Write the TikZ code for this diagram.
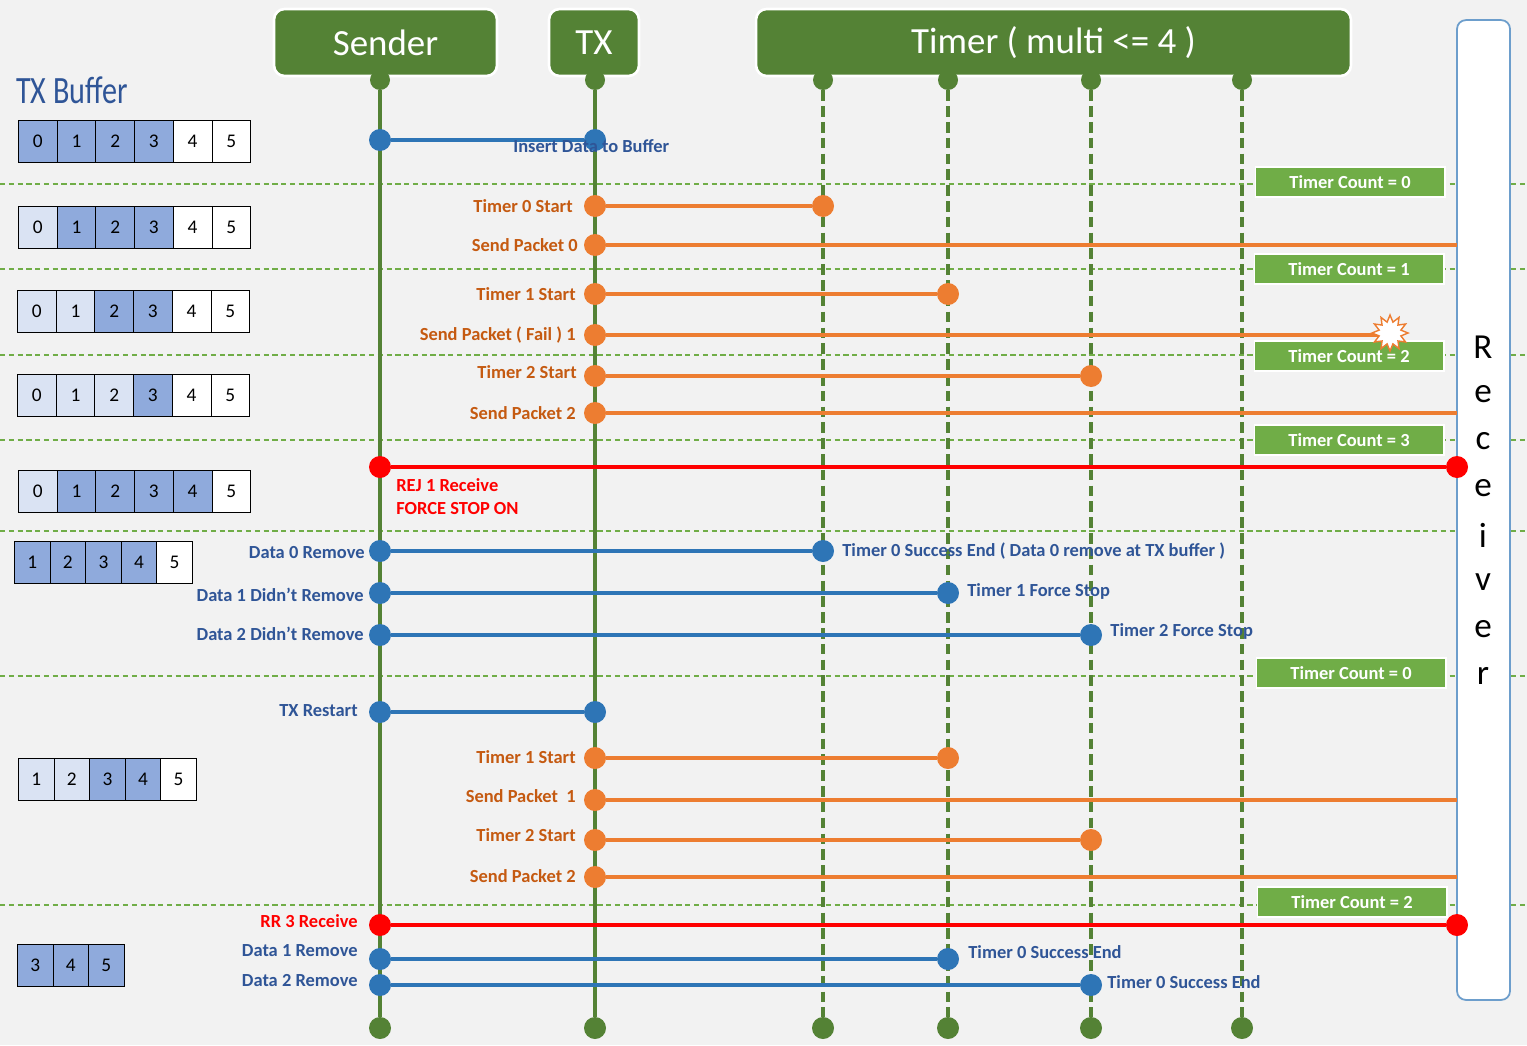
\documentclass[tikz,border=0pt]{standalone}
\usepackage{fontspec}
\setmainfont{Carlito}
\usetikzlibrary{shapes.geometric}
\definecolor{bg}{HTML}{F2F2F2}
\definecolor{hdr}{HTML}{548235}
\definecolor{life}{HTML}{548235}
\definecolor{cnt}{HTML}{70AD47}
\definecolor{bl}{HTML}{2E75B6}
\definecolor{bltxt}{HTML}{2F5597}
\definecolor{org}{HTML}{ED7D31}
\definecolor{orgtxt}{HTML}{C55A11}
\definecolor{rd}{HTML}{FF0000}
\definecolor{cellb}{HTML}{8FAADC}
\definecolor{celll}{HTML}{DAE3F3}
\tikzset{
 hdrbox/.style={draw=white,line width=1.5pt,fill=hdr,rounded corners=6pt,text=white,font=\fontsize{21}{21}\selectfont,inner sep=0pt},
 lifeln/.style={draw=life,line width=1.8pt},
 timerln/.style={draw=life,line width=1.8pt,dash pattern=on 6pt off 3pt},
 sep/.style={draw=cnt,line width=0.6pt,dash pattern=on 3pt off 2pt},
 dot/.style={circle,inner sep=0pt,minimum size=0.44cm},
 gdot/.style={dot,fill=life},
 msgln/.style={line width=1.8pt},
 lab/.style={font=\bfseries\fontsize{10.5}{12}\selectfont,inner sep=0pt},
 cntbox/.style={fill=cnt,draw=white,line width=0.6pt,minimum width=3.8cm,minimum height=0.6cm,text=white,font=\bfseries\fontsize{10.5}{12}\selectfont,inner sep=0pt},
 cell/.style={draw=black,line width=0.5pt,minimum height=0.84cm,inner sep=0pt,font=\fontsize{11}{12}\selectfont},
}
\begin{document}
\begin{tikzpicture}[x=0.02cm,y=-0.02cm]
\fill[bg] (0,0) rectangle (1527,1045);
\useasboundingbox (0,0) rectangle (1527,1045);
% separators
\foreach \yy in {184,269,355,440,531,676,905} \draw[sep] (0,\yy) -- (1527,\yy);
% headers
\node[hdrbox,minimum width=4.46cm,minimum height=1.34cm] (sender) at (385.5,42.5) {Sender};
\node[hdrbox,minimum width=1.8cm,minimum height=1.34cm] (tx) at (594,42.5) {TX};
\node[hdrbox,minimum width=11.9cm,minimum height=1.34cm] (timer) at (1053.5,42.5) {Timer ( multi <= 4 )};
% receiver
\node[draw=bl!70,fill=white,line width=1pt,rounded corners=5pt,minimum width=1.06cm,minimum height=19.6cm,inner sep=0pt] (recv) at (1483.5,510) {};
\foreach \c [count=\i] in {R,e,c,e,i,v,e,r}
  \node[font=\fontsize{20}{20}\selectfont] at (1483,300+47*\i) {\c};
% lifelines
\foreach \nm/\xx/\st in {s/380/lifeln,t/595/lifeln,a/823/timerln,b/948/timerln,c/1091/timerln,d/1242/timerln}{
  \node[gdot,minimum size=0.4cm] (\nm top) at (\xx,80) {};
  \node[gdot] (\nm bot) at (\xx,1028) {};
  \draw[\st] (\nm top) -- (\nm bot);
}
% TX Buffer title
\node[anchor=west,text=bltxt,font=\fontsize{22}{22}\selectfont,xscale=0.78,inner sep=0pt] (title) at (16,90) {TX Buffer};
% buffers
\newcommand{\buf}[5]{% x0, y0, width, list of value/color
  \foreach \v/\cc [count=\k from 0] in {#4}
    \node[cell,minimum width=#3*0.02cm,fill=\cc,anchor=north west] at (#1+#3*\k,#2) {\v};
}
\buf{18}{120}{38.7}{0/cellb,1/cellb,2/cellb,3/cellb,4/white,5/white}{}
\buf{18}{206}{38.7}{0/celll,1/cellb,2/cellb,3/cellb,4/white,5/white}{}
\buf{17}{290}{38.7}{0/celll,1/celll,2/cellb,3/cellb,4/white,5/white}{}
\buf{17}{374}{38.7}{0/celll,1/celll,2/celll,3/cellb,4/white,5/white}{}
\buf{18}{470}{38.7}{0/celll,1/cellb,2/cellb,3/cellb,4/cellb,5/white}{}
\buf{14}{541}{35.6}{1/cellb,2/cellb,3/cellb,4/cellb,5/white}{}
\buf{18}{758}{35.6}{1/celll,2/celll,3/cellb,4/cellb,5/white}{}
\buf{17}{944}{35.5}{3/cellb,4/cellb,5/cellb}{}
% counters
\foreach \yy/\xx/\n in {182/1350/0,269/1349/1,356/1349/2,440/1349/3,673/1351/0,902/1352/2}
  \node[cntbox] at (\xx,\yy) {Timer Count = \n};
% messages
\newcommand{\msg}[6]{% name, y, x1, x2, color, enddot
  \node[dot,fill=#5] (#1a) at (#3,#2) {};
  \ifx#61\node[dot,fill=#5] (#1b) at (#4,#2) {};\else\coordinate (#1b) at (#4,#2);\fi
  \draw[msgln,draw=#5] (#1a) -- (#1b);
}
\msg{m1}{140}{380}{595}{bl}{1}
\node[lab,text=bltxt,anchor=west] at (513,146) {Insert Data to Buffer};
\msg{m2}{206}{595}{823}{org}{1}
\node[lab,text=orgtxt,anchor=east] at (573,206) {Timer 0 Start};
\msg{m3}{245}{595}{1457}{org}{0}
\node[lab,text=orgtxt,anchor=east] at (578,245) {Send Packet 0};
\msg{m4}{294}{595}{948}{org}{1}
\node[lab,text=orgtxt,anchor=east] at (576,294) {Timer 1 Start};
\msg{m5}{335}{595}{1390}{org}{0}
\node[lab,text=orgtxt,anchor=east] at (576,335) {Send Packet ( Fail ) 1};
\node[star,star points=12,star point ratio=1.6,draw=org,fill=white,line width=0.8pt,minimum size=0.72cm,inner sep=0pt] (burst) at (1390,333) {};
\msg{m6}{376}{595}{1091}{org}{1}
\node[lab,text=orgtxt,anchor=east] at (577,372) {Timer 2 Start};
\msg{m7}{413}{595}{1457}{org}{0}
\node[lab,text=orgtxt,anchor=east] at (576,413) {Send Packet 2};
\msg{m8}{467}{380}{1457}{rd}{1}
\node[lab,text=rd,anchor=west,align=left] at (396,497) {REJ 1 Receive\\[1pt]FORCE STOP ON};
\msg{m9}{551}{380}{823}{bl}{1}
\node[lab,text=bltxt,anchor=east] at (365,553) {Data 0 Remove};
\node[lab,text=bltxt,anchor=west] at (842,551) {Timer 0 Success End ( Data 0 remove at TX buffer )};
\msg{m10}{593}{380}{948}{bl}{1}
\node[lab,text=bltxt,anchor=east] at (364,595) {Data 1 Didn’t Remove};
\node[lab,text=bltxt,anchor=west] at (967,591) {Timer 1 Force Stop};
\msg{m11}{635}{380}{1091}{bl}{1}
\node[lab,text=bltxt,anchor=east] at (364,634) {Data 2 Didn’t Remove};
\node[lab,text=bltxt,anchor=west] at (1110,631) {Timer 2 Force Stop};
\msg{m12}{712}{380}{595}{bl}{1}
\node[lab,text=bltxt,anchor=east] at (358,711) {TX Restart};
\msg{m13}{758}{595}{948}{org}{1}
\node[lab,text=orgtxt,anchor=east] at (576,757) {Timer 1 Start};
\msg{m14}{800}{595}{1457}{org}{0}
\node[lab,text=orgtxt,anchor=east] at (576,796) {Send Packet\ \ 1};
\msg{m15}{840}{595}{1091}{org}{1}
\node[lab,text=orgtxt,anchor=east] at (576,835) {Timer 2 Start};
\msg{m16}{877}{595}{1457}{org}{0}
\node[lab,text=orgtxt,anchor=east] at (576,876) {Send Packet 2};
\msg{m17}{925}{380}{1457}{rd}{1}
\node[lab,text=rd,anchor=east] at (358,921) {RR 3 Receive};
\msg{m18}{959}{380}{948}{bl}{1}
\node[lab,text=bltxt,anchor=east] at (358,951) {Data 1 Remove};
\node[lab,text=bltxt,anchor=west] at (968,952) {Timer 0 Success End};
\msg{m19}{985}{380}{1091}{bl}{1}
\node[lab,text=bltxt,anchor=east] at (358,981) {Data 2 Remove};
\node[lab,text=bltxt,anchor=west] at (1107,982) {Timer 0 Success End};
\end{tikzpicture}
\end{document}
